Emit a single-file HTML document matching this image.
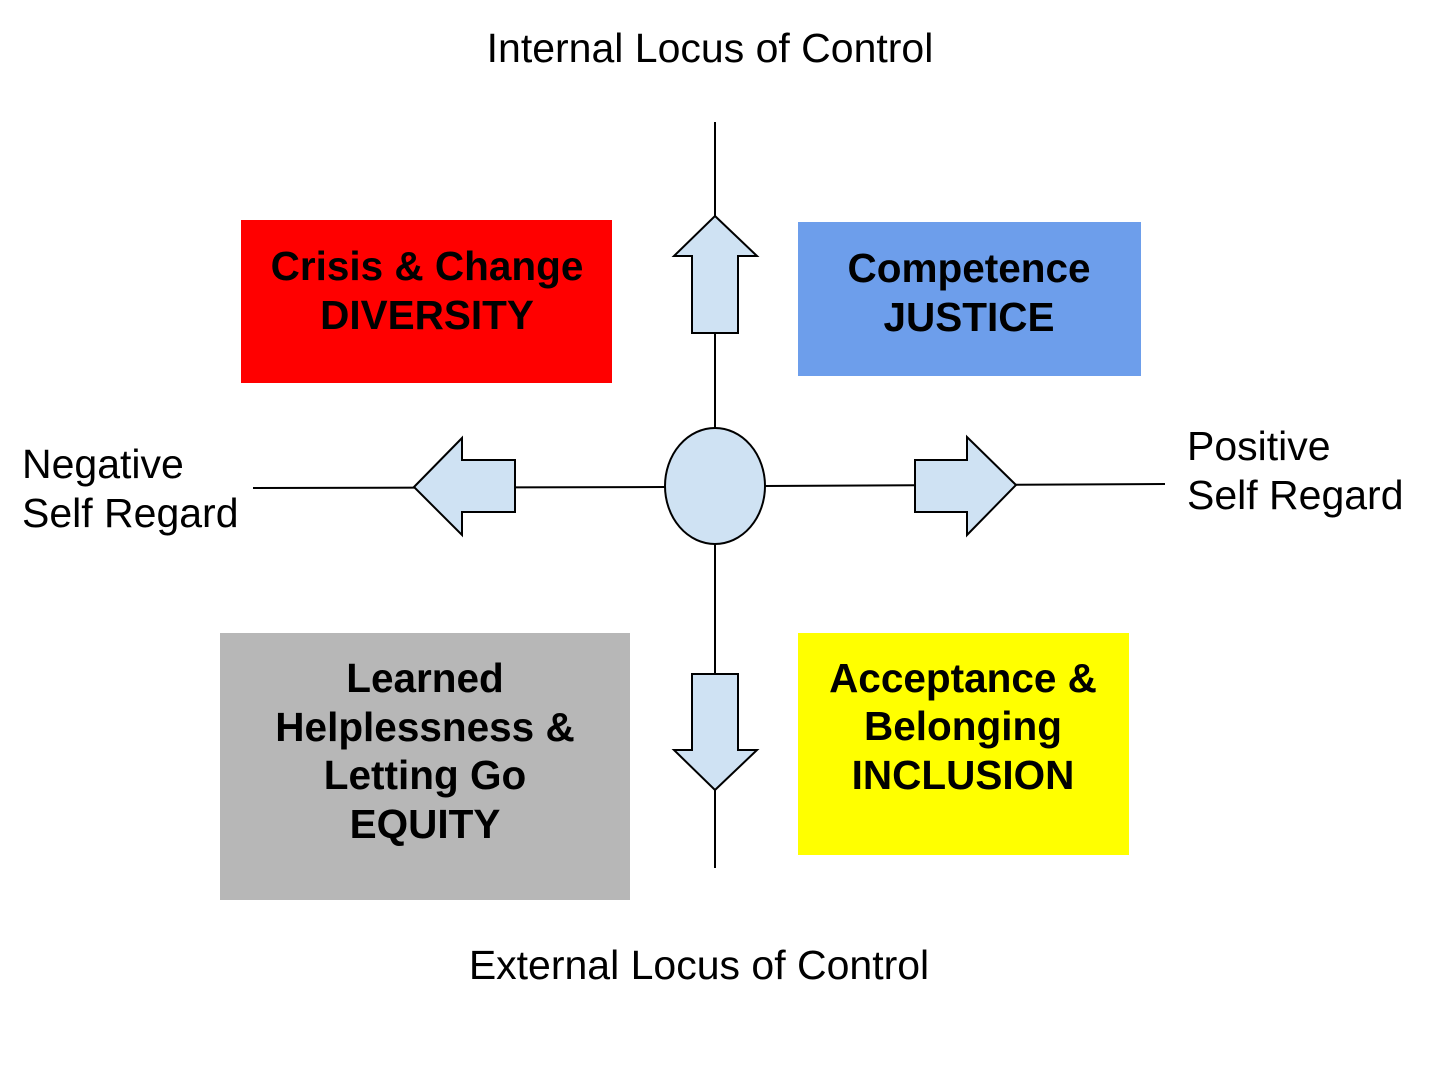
<!DOCTYPE html>
<html><head><meta charset="utf-8"><style>
html,body{margin:0;padding:0;background:#fff;}
svg{display:block;}
text{font-family:"Liberation Sans",Arial,sans-serif;}
.t{font-size:41px;fill:#000;}
.b{font-size:40.5px;font-weight:bold;fill:#000;text-anchor:middle;}
</style></head><body>
<svg width="1432" height="1087" viewBox="0 0 1432 1087" xmlns="http://www.w3.org/2000/svg">
<rect x="0" y="0" width="1432" height="1087" fill="#fff"/>
<g stroke="#000" stroke-width="2" fill="none">
<line x1="715" y1="122" x2="715" y2="430"/>
<line x1="715" y1="544" x2="715" y2="868"/>
<line x1="253" y1="488" x2="666" y2="487"/>
<line x1="764" y1="486" x2="1165" y2="484"/>
</g>
<g stroke="#000" stroke-width="2" fill="#cfe2f3">
<ellipse cx="715" cy="486" rx="50" ry="58"/>
<polygon points="715,216 757,256 738,256 738,333 692,333 692,256 674,256"/>
<polygon points="715,790 757,750 738,750 738,674 692,674 692,750 674,750"/>
<polygon points="414,487 462,438 462,460 515,460 515,512 462,512 462,535"/>
<polygon points="1016,485 967,437 967,460 915,460 915,512 967,512 967,535"/>
</g>
<rect x="241" y="220" width="371" height="163" fill="#ff0000"/>
<rect x="798" y="222" width="343" height="154" fill="#6d9eeb"/>
<rect x="220" y="633" width="410" height="267" fill="#b7b7b7"/>
<rect x="798" y="633" width="331" height="222" fill="#ffff00"/>
<text class="t" x="710" y="62" text-anchor="middle">Internal Locus of Control</text>
<text class="t" x="699" y="979" text-anchor="middle">External Locus of Control</text>
<text class="t" x="22" y="478">Negative</text>
<text class="t" x="22" y="527">Self Regard</text>
<text class="t" x="1187" y="460">Positive</text>
<text class="t" x="1187" y="509">Self Regard</text>
<text class="b" x="427" y="280">Crisis &amp; Change</text>
<text class="b" x="427" y="329">DIVERSITY</text>
<text class="b" x="969" y="282">Competence</text>
<text class="b" x="969" y="331">JUSTICE</text>
<text class="b" x="425" y="692">Learned</text>
<text class="b" x="425" y="741">Helplessness &amp;</text>
<text class="b" x="425" y="789">Letting Go</text>
<text class="b" x="425" y="838">EQUITY</text>
<text class="b" x="963" y="692">Acceptance &amp;</text>
<text class="b" x="963" y="740">Belonging</text>
<text class="b" x="963" y="789">INCLUSION</text>
</svg>
</body></html>
